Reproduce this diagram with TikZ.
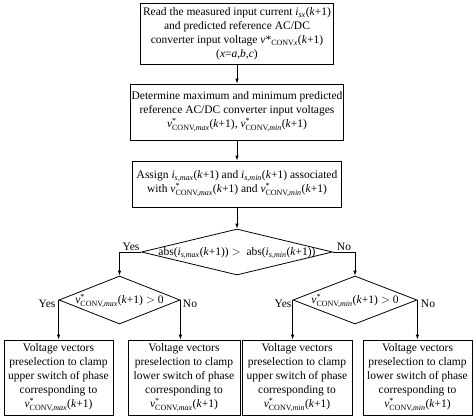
\documentclass[tikz,border=0pt]{standalone}
\usepackage{fontspec}
\setmainfont{Liberation Serif}
\usetikzlibrary{shapes.geometric,arrows.meta}
\newcommand{\subsz}{\fontsize{8}{8.5}\selectfont}
\newcommand{\kk}{(\textit{k}+1)}
\newcommand{\ivar}[1]{$\mbox{\textit{i}}_{\mbox{\subsz\textit{#1}}}$}
\newcommand{\vst}[1]{$\mbox{\textit{v}}^{\mbox{\subsz *}}_{\mbox{\subsz CONV,\textit{#1}}}$}
\begin{document}
\begin{tikzpicture}[x=1pt,y=-1pt,line width=0.8pt,
  font=\fontsize{11.5}{14}\selectfont,
  box/.style={draw,rectangle,align=center,inner sep=1pt},
  dia/.style={draw,diamond,inner sep=0pt},
  arr/.style={-{Latex[length=5pt,width=3.5pt]}},
  lbl/.style={inner sep=0pt}]
\useasboundingbox (0,0) rectangle (474,418);

\node[box,minimum width=193pt,minimum height=61pt] (b1) at (237,34)
  {Read the measured input current \ivar{sx}\kk\\
   and predicted reference AC/DC\\
   converter input voltage \textit{v}*$_{\mbox{\subsz CONV\textit{x}}}$\kk\\
   (\textit{x}=\textit{a},\textit{b},\textit{c})};
\node[box,minimum width=208pt,minimum height=56pt] (b2) at (237,112)
  {Determine maximum and minimum predicted\\
   reference AC/DC converter input voltages\\
   \vst{max}\kk, \vst{min}\kk};
\node[box,minimum width=209pt,minimum height=46pt] (b3) at (237,184)
  {Assign \ivar{s,max}\kk{} and \ivar{s,min}\kk{} associated\\
   with \vst{max}\kk{} and \vst{min}\kk};

\node[dia,minimum width=191pt,minimum height=46pt] (d1) at (237,252) {};
\node[lbl] (d1t) at (237,253.5) {abs(\ivar{s,max}\kk) $>$ \ abs(\ivar{s,min}\kk)};

\node[dia,minimum width=121pt,minimum height=48pt] (dL) at (119.5,300) {};
\node[lbl] (dLt) at (119.5,301) {\vst{max}\kk{} $>$ 0};
\node[dia,minimum width=124pt,minimum height=48pt] (dR) at (355,300) {};
\node[lbl] (dRt) at (355,301) {\vst{min}\kk{} $>$ 0};

\node[box,minimum width=109pt,minimum height=75pt] (e1) at (58.5,377.5)
  {Voltage vectors\\ preselection to clamp\\ upper switch of phase\\ corresponding to\\ \vst{max}\kk};
\node[box,minimum width=112pt,minimum height=75pt] (e2) at (184,377.5)
  {Voltage vectors\\ preselection to clamp\\ lower switch of phase\\ corresponding to\\ \vst{max}\kk};
\node[box,minimum width=110pt,minimum height=75pt] (e3) at (297,377.5)
  {Voltage vectors\\ preselection to clamp\\ upper switch of phase\\ corresponding to\\ \vst{min}\kk};
\node[box,minimum width=109pt,minimum height=75pt] (e4) at (417.5,377.5)
  {Voltage vectors\\ preselection to clamp\\ lower switch of phase\\ corresponding to\\ \vst{min}\kk};

\draw[arr] (b1) -- (b2);
\draw[arr] (b2) -- (b3);
\draw[arr] (b3) -- (d1);
\draw[arr] (d1.west) -| (dL.north);
\draw[arr] (d1.east) -| (dR.north);
\draw[arr] (dL.west) -- (dL.west |- e1.north);
\draw[arr] (dL.east) -- (dL.east |- e2.north);
\draw[arr] (dR.west) -- (dR.west |- e3.north);
\draw[arr] (dR.east) -- (dR.east |- e4.north);

\node[lbl] (y1) at (131,247) {Yes};
\node[lbl] (n1) at (344,247) {No};
\node[lbl] (y2) at (47,304) {Yes};
\node[lbl] (n2) at (190,304) {No};
\node[lbl] (y3) at (283,304) {Yes};
\node[lbl] (n3) at (428,304) {No};
\end{tikzpicture}
\end{document}
